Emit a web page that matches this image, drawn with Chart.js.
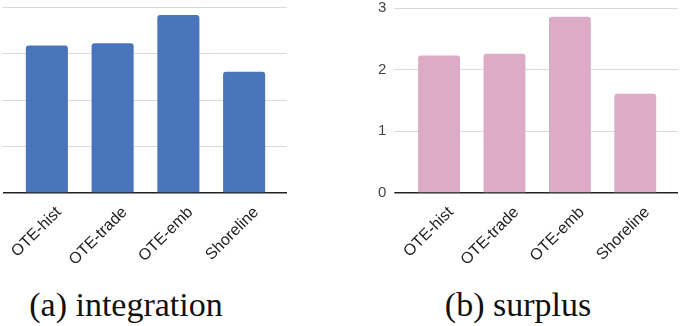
<!DOCTYPE html>
<html>
<head>
<meta charset="utf-8">
<script src="https://cdn.jsdelivr.net/npm/chart.js@4.4.1/dist/chart.umd.min.js"></script>
<style>
body{margin:0;width:682px;height:326px;background:#fff;position:relative;overflow:hidden}
.box{position:absolute}
#box1{left:0;top:0;width:300px;height:263px}
#box2{left:340px;top:-9px;width:342px;height:272px}
.cap{position:absolute;font-family:"Liberation Serif","Times New Roman",serif;font-size:34px;line-height:34px;color:#111;white-space:nowrap;transform:translateX(-50%)}
</style>
</head>
<body>
<div class="box" id="box1"><canvas id="chart1"></canvas></div>
<div class="box" id="box2"><canvas id="chart2"></canvas></div>
<div class="cap" style="left:126px;top:288px">(a) integration</div>
<div class="cap" style="left:518px;top:288px">(b) surplus</div>
<script>
"use strict";
// データ
const categories = ["OTE-hist", "OTE-trade", "OTE-emb", "Shoreline"];
const integrationValues = [3.17, 3.22, 3.83, 2.61];
const surplusValues = [2.23, 2.26, 2.86, 1.61];
const integrationTicks = [0, 1, 2, 3, 4]; // labels are cut off in the original
const surplusTicks = [0, 1, 2, 3];

Chart.defaults.font.family = "'Liberation Sans', Arial, sans-serif";
Chart.defaults.animation = false;

function lineColor(ctx){
  return ctx.tick && ctx.tick.value === 0 ? "#222222" : "#d9d9d9";
}
function lineWidth(ctx){
  return ctx.tick && ctx.tick.value === 0 ? 1.5 : 1;
}
function setTicks(list){
  return function(scale){
    scale.ticks = list.map(function(v){ return {value: v}; });
  };
}

function makeChart(id, values, color, tickList, showLabels, pad, leftTick){
  const ctx = document.getElementById(id);
  return new Chart(ctx, {
    type: "bar",
    data: {
      labels: categories,
      datasets: [{
        data: values,
        backgroundColor: color,
        borderRadius: 3,
        borderSkipped: "bottom",
        categoryPercentage: 1,
        barPercentage: 0.64
      }]
    },
    options: {
      responsive: true,
      maintainAspectRatio: false,
      layout: {padding: pad},
      plugins: {legend: {display: false}, tooltip: {enabled: false}},
      scales: {
        x: {
          grid: {display: false, drawTicks: false},
          border: {display: false},
          afterFit: function(scale){
            scale.height = 70;
            scale.paddingLeft = 0;
            scale.paddingRight = 0;
          },
          ticks: {
            minRotation: 45, maxRotation: 45,
            color: "#222", padding: 10, labelOffset: 12,
            font: {size: 16}
          }
        },
        y: {
          min: tickList[0], max: tickList[tickList.length - 1],
          afterBuildTicks: setTicks(tickList),
          grid: {color: lineColor, tickColor: lineColor, lineWidth: lineWidth, tickLength: leftTick},
          border: {display: false},
          ticks: {display: showLabels, color: "#444", padding: 8, font: {size: 15}}
        },
        yr: {
          position: "right",
          min: tickList[0], max: tickList[tickList.length - 1],
          afterBuildTicks: setTicks(tickList),
          grid: {drawOnChartArea: false, tickColor: lineColor, lineWidth: lineWidth, tickLength: 10},
          border: {display: false},
          ticks: {display: false}
        }
      }
    }
  });
}

makeChart("chart1", integrationValues, "#4a74bc", integrationTicks, false,
  {left: 3, right: 13, top: 7, bottom: 0}, 11);
makeChart("chart2", surplusValues, "#dcabc5", surplusTicks, true,
  {left: 30, right: 4, top: 0, bottom: 0}, 12);
</script>
</body>
</html>
